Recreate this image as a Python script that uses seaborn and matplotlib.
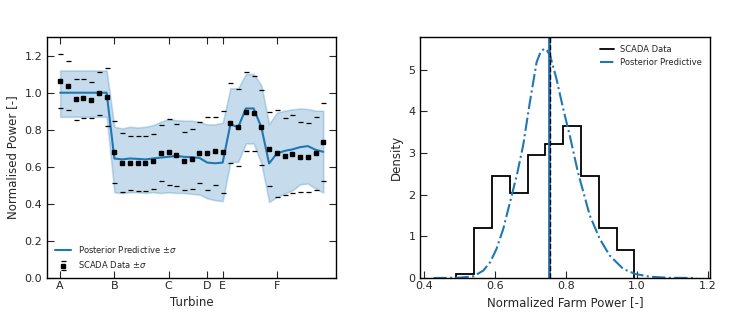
import numpy as np
import pandas as pd
import matplotlib
matplotlib.use("Agg")
import matplotlib.pyplot as plt
import seaborn as sns

# turbine rows (A..F mark the first turbine of each row)
turbine_ticks = [0, 7, 14, 19, 21, 28]
turbine_labels = ["A", "B", "C", "D", "E", "F"]

scada_mean = [1.063, 1.038, 0.964, 0.969, 0.960, 0.996, 0.977,
              0.681, 0.622, 0.623, 0.620, 0.618, 0.629, 0.674, 0.679, 0.663,
              0.632, 0.643, 0.675, 0.672, 0.685, 0.681,
              0.834, 0.814, 0.897, 0.888, 0.814,
              0.695, 0.674, 0.656, 0.670, 0.652, 0.652, 0.672, 0.735]
scada_std = [0.144, 0.132, 0.109, 0.105, 0.099, 0.117, 0.158,
             0.169, 0.158, 0.146, 0.149, 0.146, 0.150, 0.151, 0.179, 0.168,
             0.158, 0.160, 0.165, 0.198, 0.184, 0.220,
             0.216, 0.207, 0.213, 0.202, 0.203,
             0.201, 0.235, 0.209, 0.212, 0.190, 0.186, 0.198, 0.212]

post_mean = [1.0, 1.0, 1.0, 1.0, 1.0, 1.0, 1.0,
             0.645, 0.640, 0.645, 0.643, 0.640, 0.645, 0.650, 0.654, 0.659,
             0.654, 0.652, 0.648, 0.623, 0.619, 0.623,
             0.830, 0.813, 0.915, 0.915, 0.813,
             0.618, 0.672, 0.686, 0.694, 0.706, 0.712, 0.692, 0.681]
post_upper = [1.120, 1.120, 1.120, 1.120, 1.120, 1.120, 1.120,
              0.816, 0.807, 0.816, 0.812, 0.816, 0.825, 0.843, 0.858, 0.852,
              0.849, 0.849, 0.843, 0.829, 0.829, 0.838,
              1.024, 1.024, 1.101, 1.101, 1.040,
              0.831, 0.892, 0.903, 0.910, 0.915, 0.912, 0.903, 0.903]
post_lower = [0.870, 0.870, 0.870, 0.870, 0.870, 0.870, 0.870,
              0.463, 0.458, 0.463, 0.463, 0.459, 0.463, 0.458, 0.463, 0.459,
              0.459, 0.454, 0.450, 0.430, 0.420, 0.415,
              0.627, 0.627, 0.726, 0.726, 0.618,
              0.410, 0.437, 0.455, 0.473, 0.505, 0.510, 0.483, 0.461]

# farm power histogram (density) and posterior predictive pdf
farm_bin_edges = [0.490, 0.541, 0.591, 0.642, 0.692, 0.742, 0.792, 0.843, 0.892, 0.943, 0.993]
farm_density = [0.085, 1.19, 2.45, 2.03, 2.96, 3.22, 3.64, 2.45, 1.19, 0.68]
pdf_x = [0.426, 0.470, 0.502, 0.539, 0.567, 0.586, 0.604, 0.623, 0.642, 0.661,
         0.679, 0.698, 0.717, 0.728, 0.738, 0.746, 0.755, 0.773, 0.792, 0.811,
         0.834, 0.867, 0.895, 0.923, 0.961, 0.994, 1.036, 1.090, 1.168]
pdf_y = [0.0, 0.002, 0.01, 0.04, 0.18, 0.38, 0.70, 1.18, 1.82, 2.46,
         3.18, 4.22, 5.18, 5.42, 5.50, 5.46, 5.34, 4.78, 4.06, 3.40,
         2.52, 1.50, 0.94, 0.54, 0.22, 0.10, 0.03, 0.005, 0.0]
scada_farm_mean = 0.754
post_farm_mean = 0.753

blue = "#1f77b4"

sns.set_style("ticks")
plt.rcParams["font.family"] = ["DejaVu Sans"]
plt.rcParams["axes.edgecolor"] = "black"
plt.rcParams["axes.linewidth"] = 1.0

fig, (ax1, ax2) = plt.subplots(1, 2, figsize=(7.47, 3.12), dpi=100)
fig.subplots_adjust(left=0.063, right=0.950, bottom=0.109, top=0.881, wspace=0.29)

# --- left: power per turbine
df = pd.DataFrame({"turbine": np.arange(len(scada_mean)),
                   "scada": scada_mean, "std": scada_std,
                   "post": post_mean, "lo": post_lower, "hi": post_upper})

ax1.fill_between(df["turbine"], df["lo"], df["hi"], color=blue, alpha=0.25, lw=1.2)
sns.lineplot(data=df, x="turbine", y="post", color=blue, lw=1.5, ax=ax1,
             label="Posterior Predictive \u00b1$\\sigma$")
ax1.errorbar(df["turbine"], df["scada"], yerr=df["std"], fmt="s", color="k",
             ms=3.2, capsize=1.8, capthick=0.9, elinewidth=0,
             label="SCADA Data \u00b1$\\sigma$")

ax1.set_xlim(-1.7, 35.7)
ax1.set_ylim(0, 1.3)
ax1.set_xticks(turbine_ticks)
ax1.set_xticklabels(turbine_labels)
ax1.set_yticks([0.0, 0.2, 0.4, 0.6, 0.8, 1.0, 1.2])
ax1.set_yticklabels(["0.0", "0.2", "0.4", "0.6", "0.8", "1.0", "1.2"])
ax1.tick_params(direction="in", top=True, right=True, length=5, labelsize=8)
ax1.tick_params(axis="x", pad=2.5)
ax1.set_xlabel("Turbine", fontsize=8.5, labelpad=3)
ax1.set_ylabel("Normalised Power [-]", fontsize=8.5)
ax1.legend(loc="lower left", frameon=False, fontsize=6)

# --- right: farm power distribution
ax2.stairs(farm_density, farm_bin_edges, color="k", lw=1.3, label="SCADA Data")
sns.lineplot(x=pdf_x, y=pdf_y, color=blue, ls="-.", lw=1.5, ax=ax2,
             label="Posterior Predictive")
ax2.axvline(post_farm_mean, color=blue, lw=2)
ax2.axvline(scada_farm_mean, color="k", ls="--", lw=1)

ax2.set_xlim(0.389, 1.205)
ax2.set_ylim(0, 5.78)
ax2.set_xticks([0.4, 0.6, 0.8, 1.0, 1.2])
ax2.set_xticklabels(["0.4", "0.6", "0.8", "1.0", "1.2"])
ax2.set_yticks([0, 1, 2, 3, 4, 5])
ax2.tick_params(direction="in", length=5, labelsize=8)
ax2.tick_params(axis="x", pad=2.5)
ax2.set_xlabel("Normalized Farm Power [-]", fontsize=8.5, labelpad=3)
ax2.set_ylabel("Density", fontsize=8.5)
ax2.legend(loc="upper right", frameon=False, fontsize=6, handlelength=1.6)

fig.savefig("out.png", dpi=100)
